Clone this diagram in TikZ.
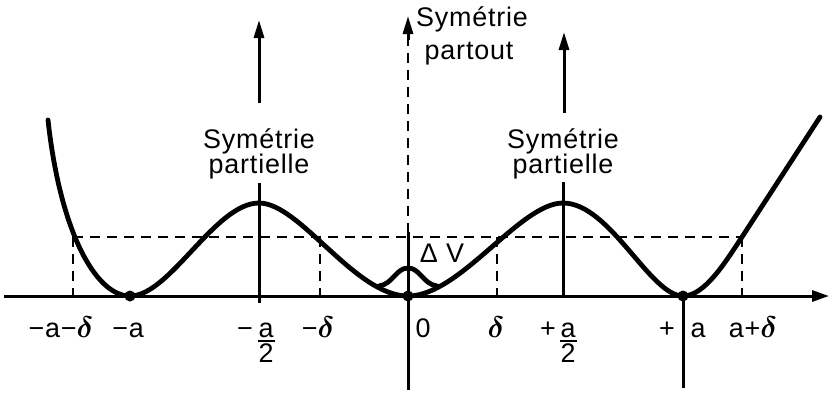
\documentclass[tikz,border=0pt]{standalone}
\usepackage{fontspec}
\setmainfont{Liberation Sans}[LetterSpace=3]
\usepackage{amsmath,bm}
\usetikzlibrary{arrows.meta}
\newcommand{\bdelta}{\scalebox{1.2}{$\bm{\delta}$}}
\begin{document}
\begin{tikzpicture}[x=1bp,y=-1bp,
  curve/.style={line width=4.8bp,line join=round,line cap=round},
  axisline/.style={line width=3bp},
  dashline/.style={line width=2.5bp,dash pattern=on 10bp off 7bp},
  lbl/.style={anchor=base,inner sep=0pt,font=\fontsize{27}{32}\selectfont},
  dot/.style={circle,fill,inner sep=0pt,minimum size=11bp},
  tipped/.style={-{Triangle[length=18bp,width=10bp]}}]
\useasboundingbox (0,0) rectangle (829,392);
% key points
\coordinate (ax0) at (4,296);
\coordinate (ax1) at (829,296);
\coordinate (mA) at (130,296);
\coordinate (pA) at (683,296);
\coordinate (O) at (408,296);
% axis
\draw[axisline,-{Triangle[length=17bp,width=11bp]}] (ax0) -- (ax1);
% dashed level line and projections
\coordinate (d1) at (73,237);
\coordinate (d2) at (320,237);
\coordinate (d3) at (497,237);
\coordinate (d4) at (742,237);
\draw[dashline] (d1) -- (d4);
\foreach \p in {d1,d2,d3,d4} \draw[dashline] (\p) -- (\p |- O);
% vertical lines
\draw[axisline] (259,183) -- (259,303);
\draw[axisline] (563,182) -- (O -| 563,0);
\draw[dashline] (408,36) -- (408,232);
\draw[axisline] (408,232) -- (408,390);
\draw[axisline] (pA) -- (683,388);
% arrows
\draw[axisline,tipped] (259,103) -- (259,20);
\draw[axisline,tipped] (564,113) -- (564,32);
\draw[axisline,tipped] (408,40) -- (408,16);
% potential curve
\draw[curve] (48,120) .. controls (60,230) and (95,296) .. (mA)
  .. controls (170,296) and (215,203) .. (259,203)
  .. controls (300,203) and (355,296) .. (O)
  .. controls (460,296) and (520,203) .. (563,203)
  .. controls (610,203) and (650,296) .. (pA)
  .. controls (705,296) and (726,261) .. (d4) -- (820,117);
% bump
\draw[curve] (379,286) .. controls (393,284) and (396,268) .. (408,268)
  .. controls (420,268) and (423,284) .. (437,286);
% dots
\node[dot] (dmA) at (mA) {};
\node[dot] (dO) at (O) {};
\node[dot] (dpA) at (pA) {};
% texts
\node[lbl] (t1) at (472,26) {Symétrie};
\node[lbl] (t2) at (469,59) {partout};
\node[lbl] (t3) at (259,148) {Symétrie};
\node[lbl] (t4) at (259,173) {partielle};
\node[lbl] (t5) at (563,148) {Symétrie};
\node[lbl] (t6) at (563,173) {partielle};
\node[lbl] (dv) at (442,262) {Δ V};
% axis labels
\node[lbl] (l1) at (61,337) {−a−\bdelta};
\node[lbl] (l2) at (128,337) {−a};
\node[lbl] (l3m) at (245,337) {−};
\node[lbl] (l3a) at (266,337) {a};
\draw[line width=1.8bp] (258,341) -- (275,341);
\node[lbl] (l3b) at (266,362) {2};
\node[lbl] (l4) at (318,337) {−\bdelta};
\node[lbl] (l5) at (423,337) {0};
\node[lbl] (l6) at (496,337) {\bdelta};
\node[lbl] (l7p) at (548,337) {+};
\node[lbl] (l7a) at (568,337) {a};
\draw[line width=1.8bp] (560,341) -- (577,341);
\node[lbl] (l7b) at (568,362) {2};
\node[lbl] (l8p) at (667,337) {+};
\node[lbl] (l8a) at (698,337) {a};
\node[lbl] (l9) at (753,337) {a+\bdelta};
\end{tikzpicture}
\end{document}
